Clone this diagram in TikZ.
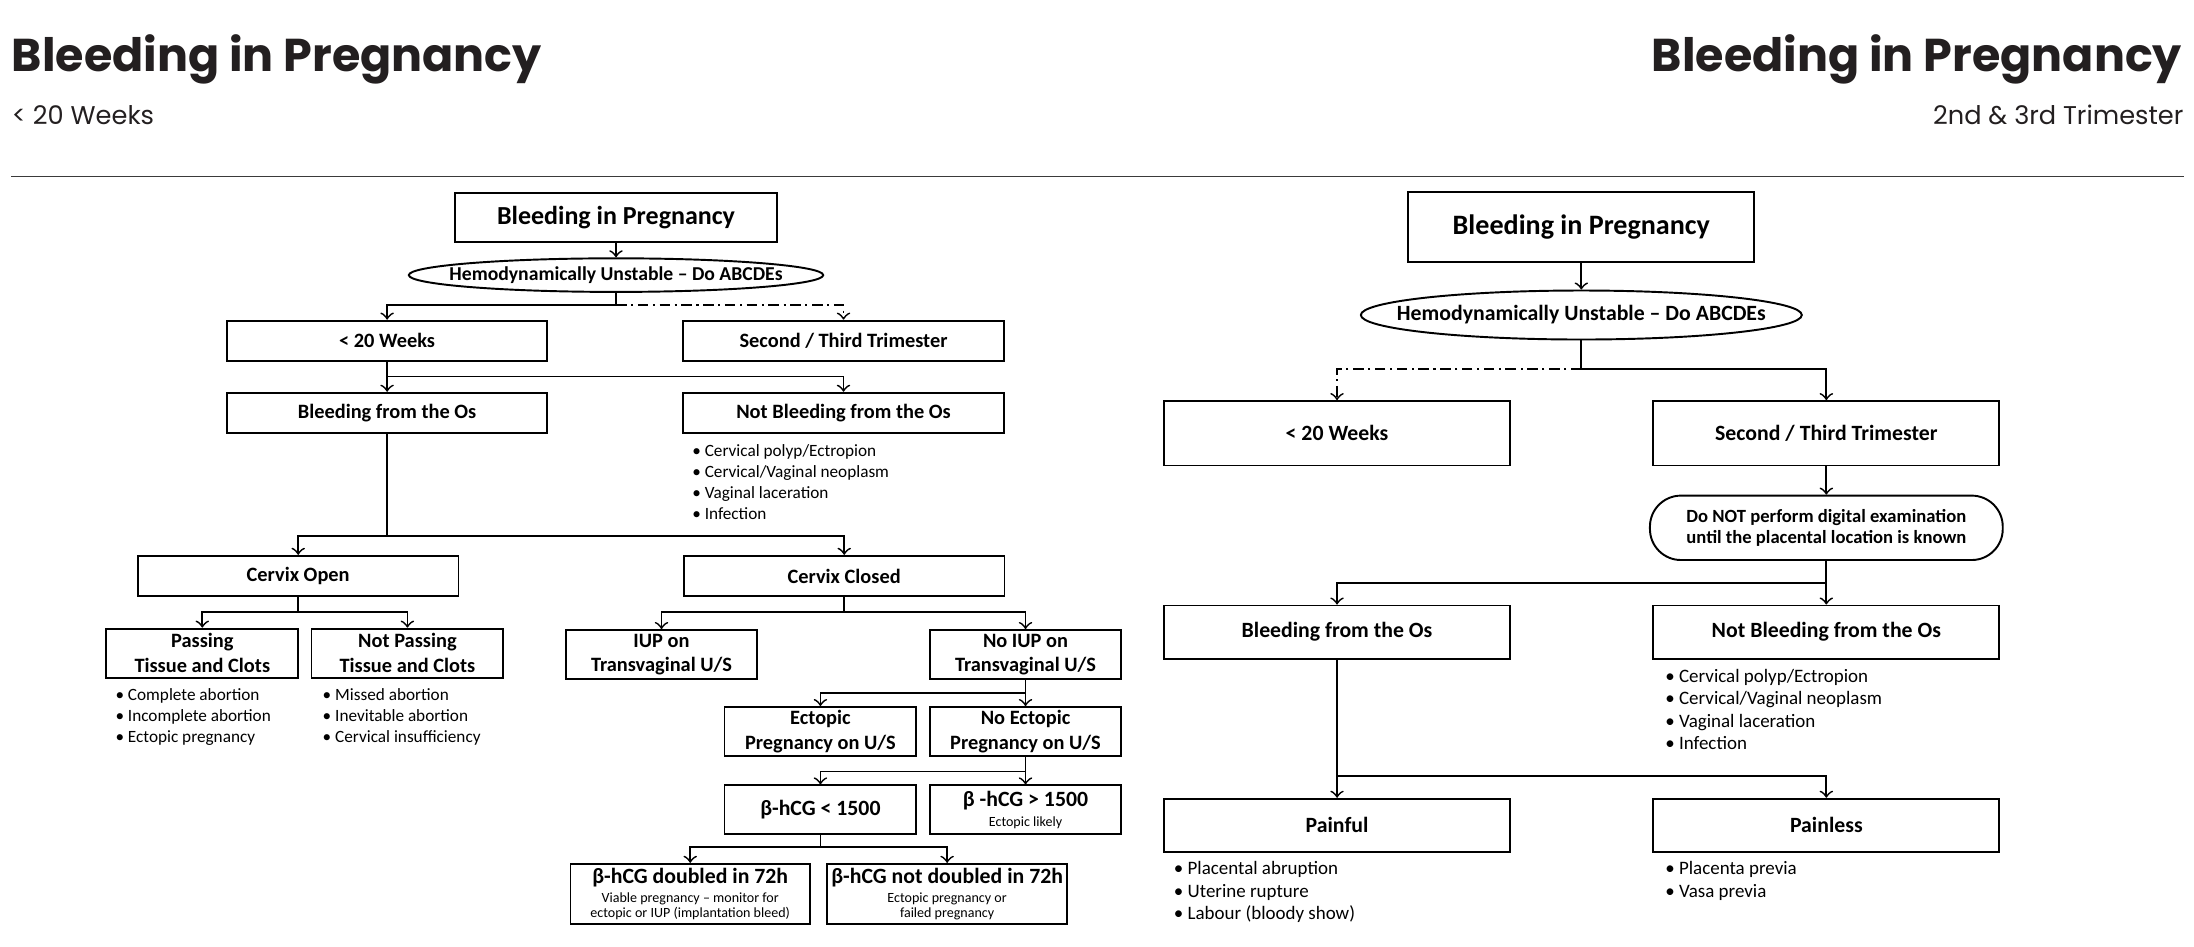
\documentclass[tikz,border=0pt]{standalone}
\usepackage{fontspec}
\setmainfont{Carlito}
\newfontfamily\headfont{Poppins}
\usetikzlibrary{positioning,shapes.geometric,calc}

\definecolor{titlecol}{HTML}{231F20}
\definecolor{rulecol}{HTML}{3A3A3A}

\newlength{\dpx}
\setlength{\dpx}{0.014cm}

% font sizes of the two charts
\newcommand{\lbig}{\fontsize{7.4}{8.8}\selectfont\bfseries}
\newcommand{\lmed}{\fontsize{5.8}{7}\selectfont\bfseries}
\newcommand{\loval}{\fontsize{5.6}{7}\selectfont\bfseries}
\newcommand{\lhcg}{\fontsize{6.2}{7}\selectfont\bfseries}
\newcommand{\llist}{\fontsize{4.9}{6}\selectfont}
\newcommand{\lsub}{\fontsize{4}{4.3}\selectfont}
\newcommand{\rbig}{\fontsize{8}{9.6}\selectfont\bfseries}
\newcommand{\rmed}{\fontsize{6.2}{7.4}\selectfont\bfseries}
\newcommand{\rstop}{\fontsize{5.3}{6.2}\selectfont\bfseries}
\newcommand{\rlist}{\fontsize{5.4}{6.4}\selectfont}

\tikzstyle{link} = [line width=.5pt]
\tikzstyle{arr} = [->, line width=.5pt]
\tikzstyle{dasharr} = [->, line width=.5pt, dash pattern=on 3pt off 1.3pt on .6pt off 1.3pt]
\tikzstyle{rule} = [line width=.45pt, rulecol]

\tikzset{
  basic box/.style = {
    shape = rectangle,
    draw,
    line width = .55pt,
    align = center,
    inner sep = 0pt,
    },
  wide box/.style = {
    basic box,
    minimum width = 229*\dpx,
    minimum height = 29*\dpx,
    font = \lmed},
  half box/.style = {
    basic box,
    minimum width = 137*\dpx,
    minimum height = 35*\dpx,
    font = \lmed},
  result box/.style = {
    basic box,
    minimum width = 171*\dpx,
    minimum height = 43*\dpx,
    font = \lsub},
  right box/.style = {
    basic box,
    minimum width = 247*\dpx,
    minimum height = 38*\dpx,
    font = \rmed},
  oval/.style = {
    shape = ellipse,
    draw,
    line width = .55pt,
    inner sep = 0pt},
  items/.style = {anchor=north west, align=left, inner sep=0pt},
  head/.style = {font=\headfont\bfseries\fontsize{13.1}{14}\selectfont, text=titlecol, inner sep=0pt},
  subhead/.style = {font=\headfont\fontsize{7.3}{8}\selectfont, text=titlecol, inner sep=0pt}
}

\begin{document}
\begin{tikzpicture}[x=0.014cm, y=-0.014cm]

    \useasboundingbox (0,0) rectangle (1567.1,676.4);

    % page heads
    \node[head, anchor=base west] (ttlL) at (8,51) {Bleeding in Pregnancy};
    \node[subhead, anchor=base west] (subL) at (8,89) {< 20 Weeks};
    \node[head, anchor=base east] (ttlR) at (1559,51) {Bleeding in Pregnancy};
    \node[subhead, anchor=base east] (subR) at (1560,89) {2nd \& 3rd Trimester};
    \draw[rule] (8,126) -- (1560,126);

    % < 20 weeks chart
    \node[basic box, minimum width=230*\dpx, minimum height=35*\dpx, font=\lbig] (topL) at (440,155.5) {Bleeding in Pregnancy};
    \node[oval, minimum width=296*\dpx, minimum height=24*\dpx,
      label={[font=\loval]center:Hemodynamically Unstable – Do ABCDEs}] (hemoL) at (440,196.5) {};

    \node[wide box] (weeksL) at (276.5,243.5) {< 20 Weeks};
    \node[wide box] (triL) at (602.5,243.5) {Second / Third Trimester};
    \node[wide box] (osL) at (276.5,295) {Bleeding from the Os};
    \node[wide box] (notosL) at (602.5,295) {Not Bleeding from the Os};
    \node[items, font=\llist] (notosLitems) at (494,317)
      {• Cervical polyp/Ectropion\\• Cervical/Vaginal neoplasm\\• Vaginal laceration\\• Infection};

    \node[wide box] (openL) at (213,411.5) {Cervix Open};
    \node[wide box] (closedL) at (603,411.5) {Cervix Closed};

    \node[half box] (passL) at (144.5,466.5) {Passing\\Tissue and Clots};
    \node[half box] (notpassL) at (291,466.5) {Not Passing\\Tissue and Clots};
    \node[items, font=\llist] (passLitems) at (82,491.5)
      {• Complete abortion\\• Incomplete abortion\\• Ectopic pregnancy};
    \node[items, font=\llist] (notpassLitems) at (230,491.5)
      {• Missed abortion\\• Inevitable abortion\\• Cervical insufficiency};

    \node[half box] (iupL) at (472.5,467.5) {IUP on\\Transvaginal U/S};
    \node[half box] (noiupL) at (732.5,467.5) {No IUP on\\Transvaginal U/S};
    \node[half box] (ectL) at (586,522.5) {Ectopic\\Pregnancy on U/S};
    \node[half box] (noectL) at (732.5,522.5) {No Ectopic\\Pregnancy on U/S};
    \node[half box, font=\lhcg] (hcglowL) at (586,578.5) {β-hCG < 1500};
    \node[half box, font=\lsub] (hcghighL) at (732.5,578.5) {{\lhcg β -hCG > 1500}\\[1.5pt]Ectopic likely};

    \node[result box] (dblL) at (493,638.5)
      {{\lhcg β-hCG doubled in 72h}\\[1pt]Viable pregnancy – monitor for\\ectopic or IUP (implantation bleed)};
    \node[result box] (nodblL) at (676.5,638.5)
      {{\lhcg β-hCG not doubled in 72h}\\[1pt]Ectopic pregnancy or\\failed pregnancy};

    % < 20 weeks paths
    \coordinate (jL1) at (440,218);
    \coordinate (jL2) at (276.5,269);
    \coordinate (jL3) at (276.5,383);
    \coordinate (jL4) at (213,437);
    \coordinate (jL5) at (603,437);
    \coordinate (jL6) at (732.5,495);
    \coordinate (jL7) at (732.5,551);
    \coordinate (jL8) at (586,605);

    \draw[arr] (topL.south) -- (hemoL.north);
    \draw[link] (hemoL.south) -- (jL1);
    \draw[arr] (jL1) -| (weeksL.north);
    \draw[dasharr] (jL1) -| (triL.north);

    \draw[arr] (weeksL.south) -- (osL.north);
    \draw[arr] (jL2) -| (notosL.north);

    \draw[link] (osL.south) -- (jL3);
    \draw[arr] (jL3) -| (openL.north);
    \draw[arr] (jL3) -| (closedL.north);

    \draw[link] (openL.south) -- (jL4);
    \draw[arr] (jL4) -| (passL.north);
    \draw[arr] (jL4) -| (notpassL.north);

    \draw[link] (closedL.south) -- (jL5);
    \draw[arr] (jL5) -| (iupL.north);
    \draw[arr] (jL5) -| (noiupL.north);

    \draw[arr] (noiupL.south) -- (noectL.north);
    \draw[arr] (jL6) -| (ectL.north);

    \draw[arr] (noectL.south) -- (hcghighL.north);
    \draw[arr] (jL7) -| (hcglowL.north);

    \draw[link] (hcglowL.south) -- (jL8);
    \draw[arr] (jL8) -| (dblL.north);
    \draw[arr] (jL8) -| (nodblL.north);

    % 2nd and 3rd trimester chart
    \node[right box, minimum height=50*\dpx, font=\rbig] (topR) at (1129.5,162) {Bleeding in Pregnancy};
    \node[oval, minimum width=315*\dpx, minimum height=35*\dpx,
      label={[font=\rmed]center:Hemodynamically Unstable – Do ABCDEs}] (hemoR) at (1129.5,225) {};

    \node[right box, minimum height=46*\dpx] (weeksR) at (955,309.5) {< 20 Weeks};
    \node[right box, minimum height=46*\dpx] (triR) at (1304.5,309.5) {Second / Third Trimester};

    \node[basic box, rounded corners=.31cm, minimum width=252*\dpx, minimum height=46*\dpx, font=\rstop] (stopR) at (1304.5,377)
      {Do NOT perform digital examination\\until the placental location is known};

    \node[right box] (osR) at (955,451.5) {Bleeding from the Os};
    \node[right box] (notosR) at (1304.5,451.5) {Not Bleeding from the Os};
    \node[items, font=\rlist] (notosRitems) at (1189,477.5)
      {• Cervical polyp/Ectropion\\• Cervical/Vaginal neoplasm\\• Vaginal laceration\\• Infection};

    \node[right box] (painR) at (955,589.5) {Painful};
    \node[right box] (painlessR) at (1304.5,589.5) {Painless};
    \node[items, font=\rlist] (painRitems) at (838,615)
      {• Placental abruption\\• Uterine rupture\\• Labour (bloody show)};
    \node[items, font=\rlist] (painlessRitems) at (1189,615)
      {• Placenta previa\\• Vasa previa};

    % 2nd and 3rd trimester paths
    \coordinate (jR1) at (1129.5,263.5);
    \coordinate (jR2) at (1304.5,416.5);
    \coordinate (jR3) at (955,554.5);

    \draw[arr] (topR.south) -- (hemoR.north);
    \draw[link] (hemoR.south) -- (jR1);
    \draw[dasharr] (jR1) -| (weeksR.north);
    \draw[arr] (jR1) -| (triR.north);

    \draw[arr] (triR.south) -- (stopR.north);
    \draw[arr] (stopR.south) -- (notosR.north);
    \draw[arr] (jR2) -| (osR.north);

    \draw[arr] (osR.south) -- (painR.north);
    \draw[arr] (jR3) -| (painlessR.north);
\end{tikzpicture}
\end{document}
